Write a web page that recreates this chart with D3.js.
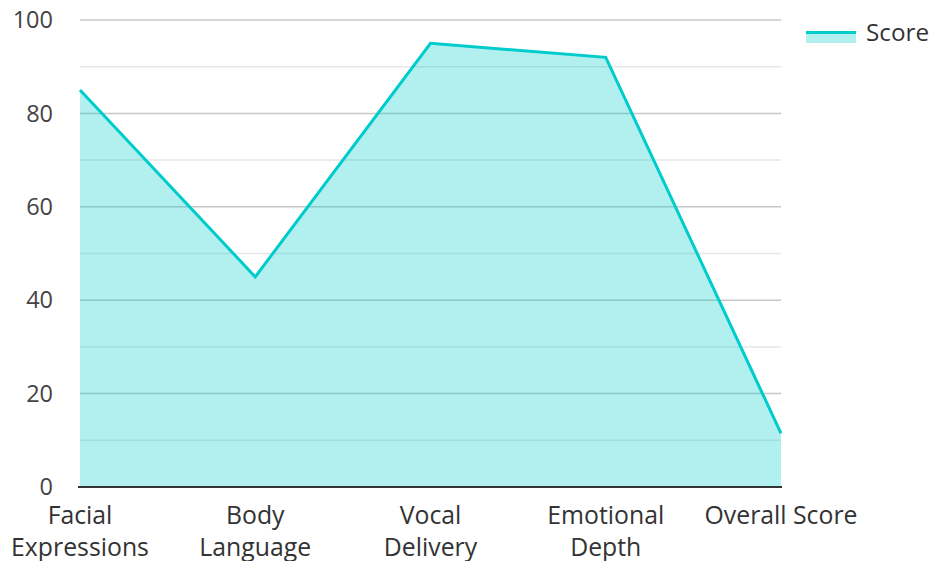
<!DOCTYPE html>
<html>
<head>
<meta charset="utf-8">
<script src="https://cdn.jsdelivr.net/npm/d3@7"></script>
<style>
  html, body { margin: 0; padding: 0; background: #fff; }
  svg { display: block; font-family: "Open Sans", "Noto Sans", sans-serif; }
</style>
</head>
<body>
<svg id="chart" width="930" height="561"></svg>
<script>
// Performance evaluation scores
const categories = ["Facial Expressions", "Body Language", "Vocal Delivery", "Emotional Depth", "Overall Score"];
const scores = [85, 45, 95, 92, 11.5];
const seriesName = "Score";
const yTicks = [0, 20, 40, 60, 80, 100];
const yMinorTicks = [10, 30, 50, 70, 90];

const svg = d3.select("#chart");
const margin = { left: 80, right: 149, top: 20, bottom: 74 };
const W = 930, H = 561;
const color = "#00cccc";

const x = d3.scalePoint().domain(categories).range([margin.left, W - margin.right]);
const y = d3.scaleLinear().domain([0, 100]).range([H - margin.bottom, margin.top]);

// Gridlines
svg.append("g").selectAll("line").data(yMinorTicks).join("line")
  .attr("x1", margin.left).attr("x2", W - margin.right)
  .attr("y1", d => y(d)).attr("y2", d => y(d))
  .attr("stroke", "#e6e6e6").attr("stroke-width", 1.5);
svg.append("g").selectAll("line").data(yTicks.filter(d => d > 0)).join("line")
  .attr("x1", margin.left).attr("x2", W - margin.right)
  .attr("y1", d => y(d)).attr("y2", d => y(d))
  .attr("stroke", "#c8c8c8").attr("stroke-width", 1.5);

const rows = categories.map((c, i) => ({ c, v: scores[i] }));

// Filled area
svg.append("path")
  .datum(rows)
  .attr("d", d3.area().x(d => x(d.c)).y0(y(0)).y1(d => y(d.v)))
  .attr("fill", color).attr("fill-opacity", 0.3);

// Line
svg.append("path")
  .datum(rows)
  .attr("d", d3.line().x(d => x(d.c)).y(d => y(d.v)))
  .attr("fill", "none").attr("stroke", color).attr("stroke-width", 3)
  .attr("stroke-linejoin", "miter");

// Baseline
svg.append("line")
  .attr("x1", margin.left - 2).attr("x2", W - margin.right + 1)
  .attr("y1", y(0)).attr("y2", y(0))
  .attr("stroke", "#333").attr("stroke-width", 2);

// Y axis labels
svg.append("g").selectAll("text").data(yTicks).join("text")
  .attr("x", 53).attr("y", d => y(d)).attr("dy", "0.35em")
  .attr("text-anchor", "end").attr("font-size", 23.5).attr("fill", "#444")
  .text(d => d);

// X axis labels (wrapped)
const wrap = {
  "Facial Expressions": ["Facial", "Expressions"],
  "Body Language": ["Body", "Language"],
  "Vocal Delivery": ["Vocal", "Delivery"],
  "Emotional Depth": ["Emotional", "Depth"],
  "Overall Score": ["Overall Score"]
};
const xl = svg.append("g").selectAll("text").data(categories).join("text")
  .attr("text-anchor", "middle").attr("font-size", 24.8).attr("fill", "#333")
  .attr("transform", d => `translate(${x(d)},${y(0) + 37})`);
xl.selectAll("tspan").data(d => wrap[d]).join("tspan")
  .attr("x", 0).attr("dy", (d, i) => i === 0 ? 0 : 32).text(d => d);

// Legend
const lg = svg.append("g").attr("transform", "translate(806,31)");
lg.append("rect").attr("x", 0).attr("y", 0).attr("width", 50).attr("height", 12)
  .attr("fill", color).attr("fill-opacity", 0.3);
lg.append("line").attr("x1", 0).attr("x2", 50).attr("y1", 1.5).attr("y2", 1.5)
  .attr("stroke", color).attr("stroke-width", 3);
lg.append("text").attr("x", 60).attr("y", 1).attr("dy", "0.35em")
  .attr("font-size", 24.3).attr("fill", "#333").text(seriesName);
</script>
</body>
</html>
